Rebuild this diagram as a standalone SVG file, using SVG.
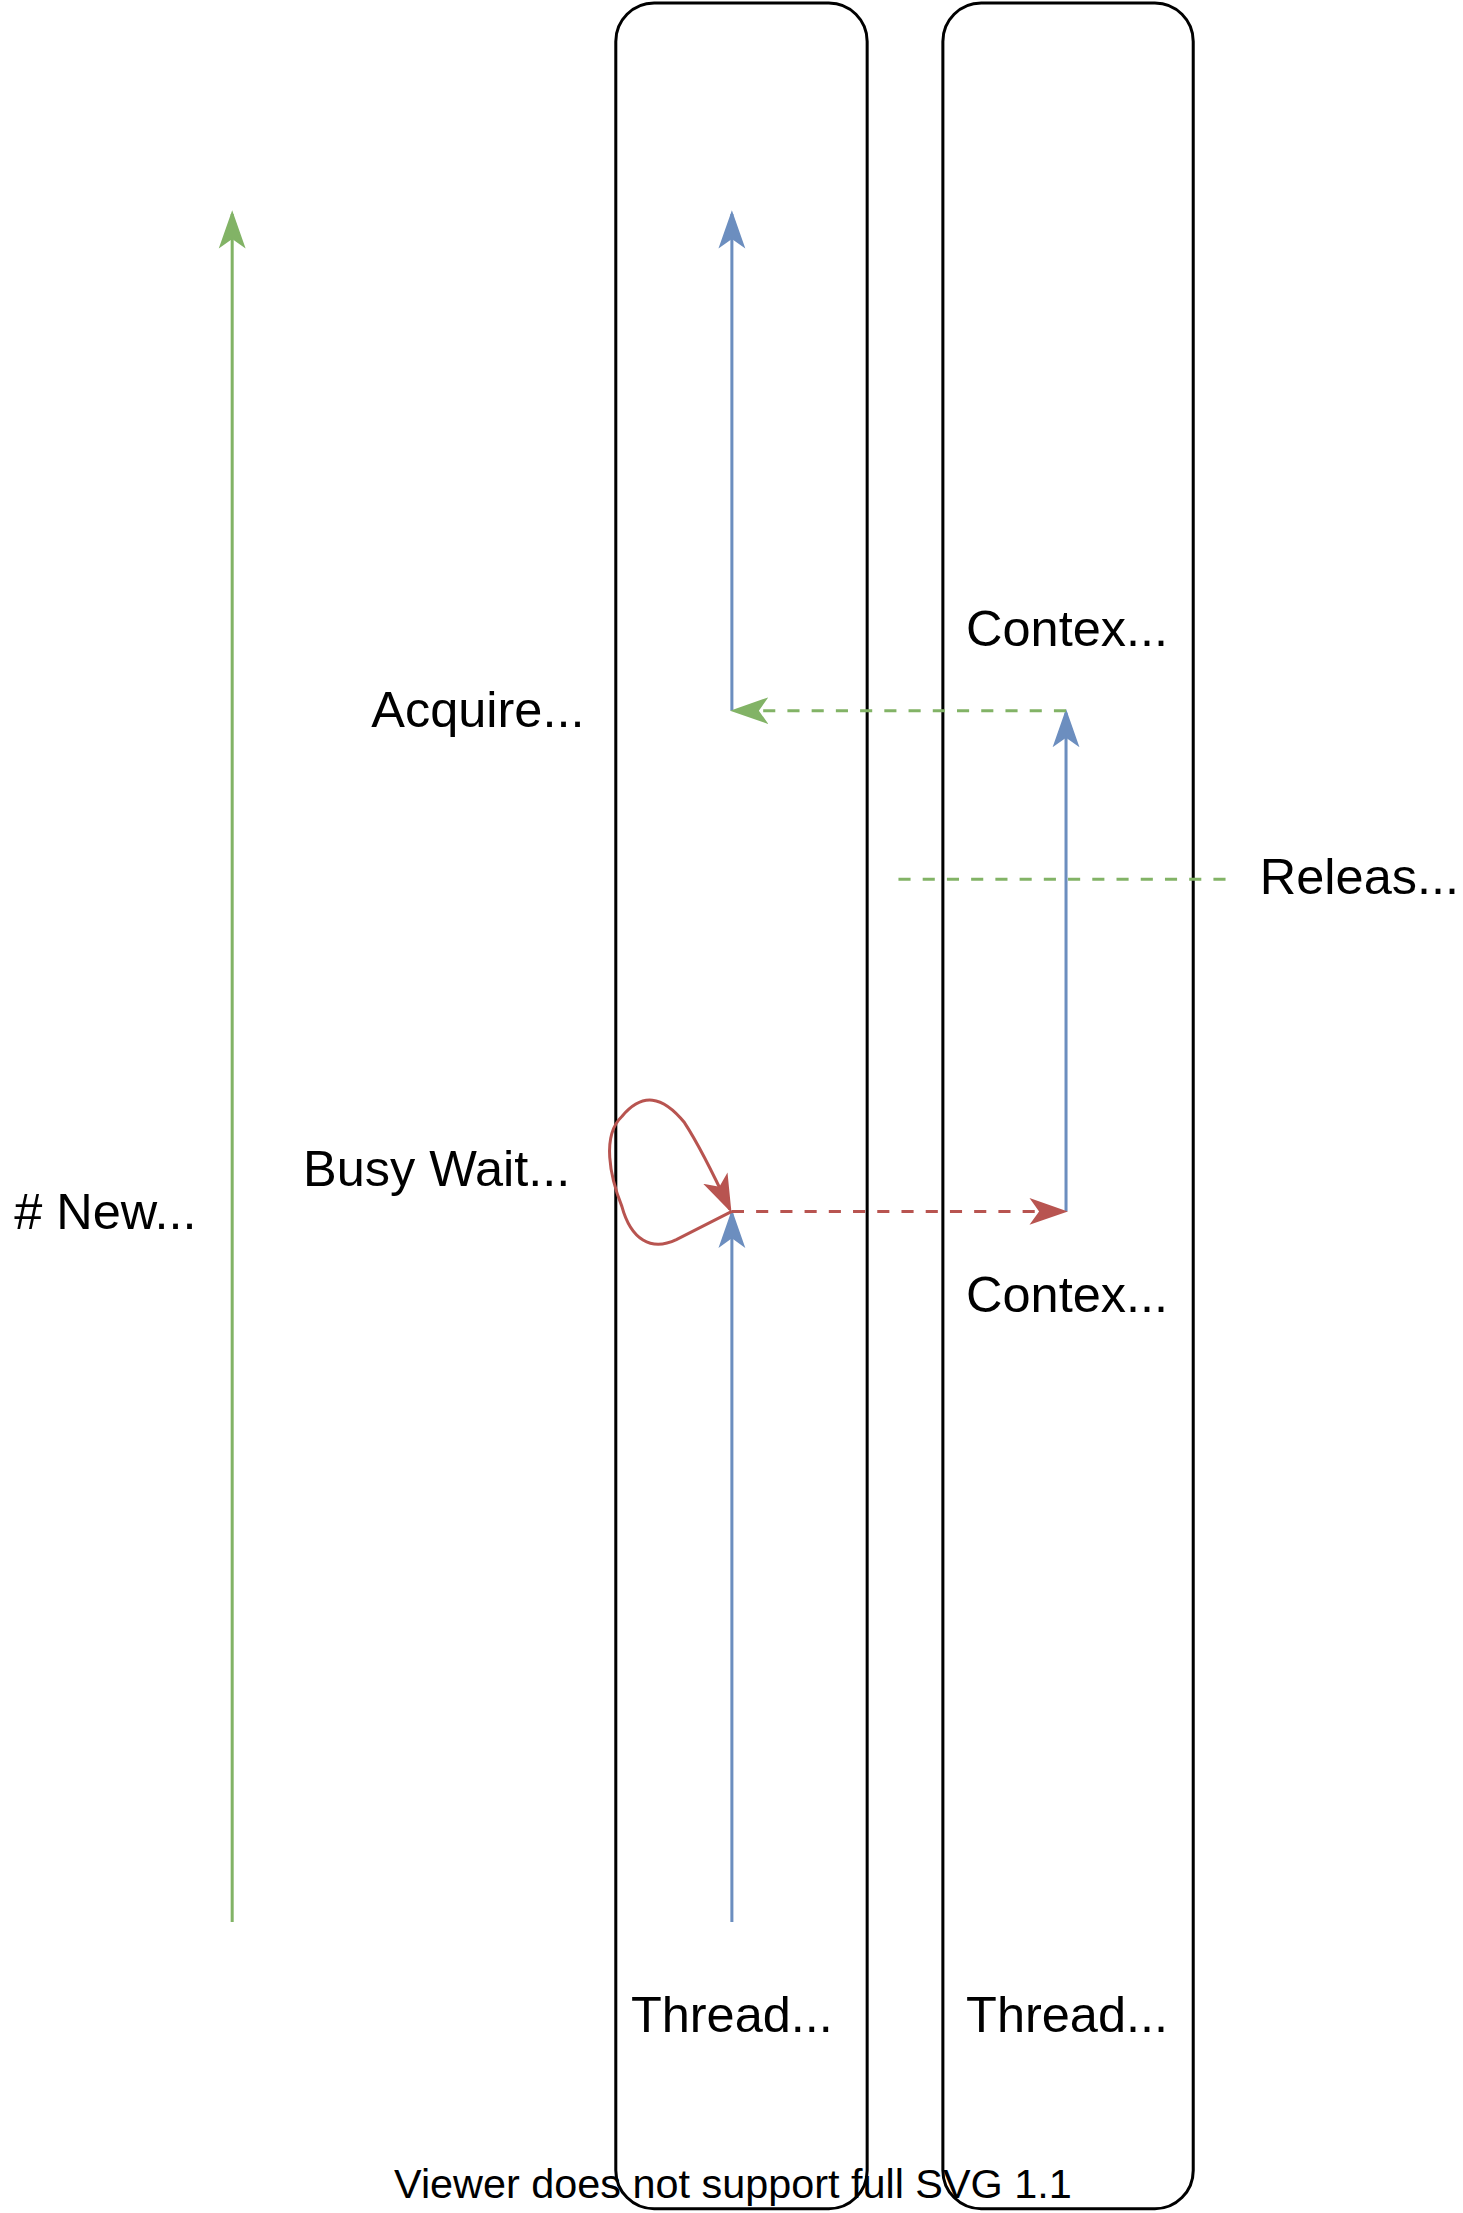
<svg xmlns="http://www.w3.org/2000/svg" width="1463" height="2213" viewBox="0 0 1463 2213">
<style>
.box{fill:none;stroke:#000;stroke-width:3}
.t{font-family:"Liberation Sans",Arial,sans-serif;font-size:50px;fill:#000}
.g{stroke:#82b366;stroke-width:3;fill:none}
.b{stroke:#6c8ebf;stroke-width:3;fill:none}
.r{stroke:#b85450;stroke-width:3;fill:none}
.d{stroke-dasharray:12 12}
</style>
<defs>
<marker id="ag" viewBox="0 0 20 20" refX="18" refY="10" markerWidth="38" markerHeight="38" orient="auto" markerUnits="userSpaceOnUse"><path d="M0,3 L20,10 L0,17 L5,10 Z" fill="#82b366"/></marker>
<marker id="ab" viewBox="0 0 20 20" refX="18" refY="10" markerWidth="38" markerHeight="38" orient="auto" markerUnits="userSpaceOnUse"><path d="M0,3 L20,10 L0,17 L5,10 Z" fill="#6c8ebf"/></marker>
<marker id="ar" viewBox="0 0 20 20" refX="18" refY="10" markerWidth="38" markerHeight="38" orient="auto" markerUnits="userSpaceOnUse"><path d="M0,3 L20,10 L0,17 L5,10 Z" fill="#b85450"/></marker>
</defs>
<g transform="scale(1.0095)">
<g id="thread1"><rect class="box" x="610" y="3" width="249" height="2185" rx="38"/><text class="t" x="725" y="2013" text-anchor="middle">Thread...</text></g>
<g id="thread2"><rect class="box" x="934" y="3" width="248" height="2185" rx="38"/><text class="t" x="1057" y="2013" text-anchor="middle">Thread...</text></g>
<g id="labels">
<text class="t" x="1057" y="640" text-anchor="middle">Contex...</text>
<text class="t" x="1057" y="1300" text-anchor="middle">Contex...</text>
<text class="t" x="579" y="720" text-anchor="end">Acquire...</text>
<text class="t" x="1248" y="886">Releas...</text>
<text class="t" x="565" y="1175" text-anchor="end">Busy Wait...</text>
<text class="t" x="14" y="1217"># New...</text>
<text class="t" x="726" y="2177" text-anchor="middle" style="font-size:41px">Viewer does not support full SVG 1.1</text>
</g>
<g id="connectors">
<path class="g" d="M230,1904 V212" marker-end="url(#ag)"/>
<path class="b" d="M725,1904 V1202" marker-end="url(#ab)"/>
<path class="b" d="M725,704 V212" marker-end="url(#ab)"/>
<path class="b" d="M1056,1200 V706" marker-end="url(#ab)"/>
<path class="g d" d="M1056,704 H727" marker-end="url(#ag)"/>
<path class="g d" d="M890,871 H1225"/>
<path class="r d" d="M725,1200 H1054" marker-end="url(#ar)"/>
<path class="r" d="M725,1200 L670,1228 C645,1240 625,1228 616,1195 C604,1165 596,1125 616,1106 C636,1082 656,1085 678,1112 C695,1138 710,1170 723,1198" marker-end="url(#ar)"/>
</g>
</g>
</svg>
